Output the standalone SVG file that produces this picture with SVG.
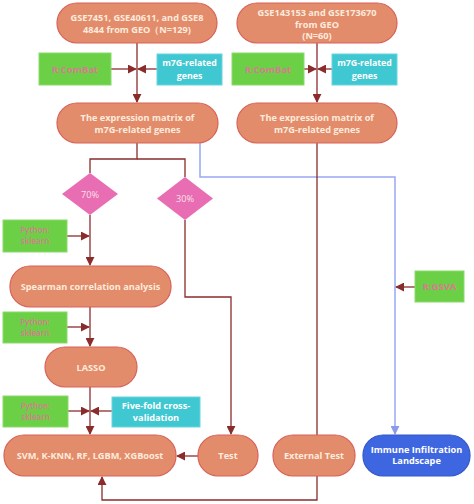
<svg xmlns="http://www.w3.org/2000/svg" width="474" height="504" viewBox="0 0 474 504">
<defs>
<marker id="ar" viewBox="0 0 10 10" refX="9" refY="5" markerWidth="9" markerHeight="9" markerUnits="userSpaceOnUse" orient="auto"><path d="M0,0 L10,5 L0,10 z" fill="#8B2C2C"/></marker>
<marker id="ab" viewBox="0 0 10 10" refX="9" refY="5" markerWidth="9" markerHeight="9" markerUnits="userSpaceOnUse" orient="auto"><path d="M0,0 L10,5 L0,10 z" fill="#8A9AEE"/></marker>
<style>
.pill{fill:#E38C6B;stroke:#D8625A;stroke-width:1.2}
.blue{fill:#3D66E0;stroke:#3558C8;stroke-width:1.2}
.grn{fill:#6CD046;stroke:#8ADA6A;stroke-width:1}
.cyn{fill:#3FC7D2;stroke:#6AD6DE;stroke-width:1}
.dia{fill:#E96DB2}
.t{font-family:"Open Sans","Liberation Sans",sans-serif;font-weight:700;font-size:9.2px;fill:#FDEBDD;text-anchor:middle}
.tw{font-family:"Open Sans","Liberation Sans",sans-serif;font-weight:700;font-size:9.2px;fill:#FFFFFF;text-anchor:middle}
.tm{font-family:"Open Sans","Liberation Sans",sans-serif;font-weight:700;font-size:8.8px;fill:#FFFFFF;text-anchor:middle}
.tg{font-family:"Open Sans","Liberation Sans",sans-serif;font-weight:600;font-size:8px;fill:#D97A92;text-anchor:middle}
.tr{font-family:"Open Sans","Liberation Sans",sans-serif;font-weight:700;font-size:9.5px;fill:#D97A92;text-anchor:middle}
.ln{fill:none;stroke:#8B2C2C;stroke-width:1.3}
.lb{fill:none;stroke:#9AA8F2;stroke-width:1.5}
</style>
</defs>
<rect width="474" height="504" fill="#FFFFFF"/>
<g id="connectors">
<path class="ln" d="M137,43 V102" marker-end="url(#ar)"/>
<path class="ln" d="M111,69 H136" marker-end="url(#ar)"/>
<path class="ln" d="M157,69 H138" marker-end="url(#ar)"/>
<path class="ln" d="M317,43 V102" marker-end="url(#ar)"/>
<path class="ln" d="M304,69 H316" marker-end="url(#ar)"/>
<path class="ln" d="M332,69 H318" marker-end="url(#ar)"/>
<path class="lb" d="M200,143 V177 H395 V434" marker-end="url(#ab)"/>
<path class="ln" d="M415,287 H396" marker-end="url(#ar)"/>
<path class="ln" d="M137,143 V159 H90 V173"/>
<path class="ln" d="M137,159 H185 V177"/>
<path class="ln" d="M90,215 V265" marker-end="url(#ar)"/>
<path class="ln" d="M67,236 H89" marker-end="url(#ar)"/>
<path class="ln" d="M90,307 V346" marker-end="url(#ar)"/>
<path class="ln" d="M67,327 H89" marker-end="url(#ar)"/>
<path class="ln" d="M90,387 V434" marker-end="url(#ar)"/>
<path class="ln" d="M68,411 H89" marker-end="url(#ar)"/>
<path class="ln" d="M112,411 H91" marker-end="url(#ar)"/>
<path class="ln" d="M185,220 V297 H231 V434" marker-end="url(#ar)"/>
<path class="ln" d="M198,456 H177" marker-end="url(#ar)"/>
<path class="ln" d="M317,143 V500 H102 V477" marker-end="url(#ar)"/>
</g>
<g id="n_gse1"><rect class="pill" x="57" y="3" width="160" height="40" rx="20"/><text class="t" x="137" y="21">GSE7451, GSE40611, and GSE8</text><text class="t" x="137" y="33">4844 from GEO（N=129)</text></g>
<g id="n_combat1"><rect class="grn" x="39" y="53" width="72" height="32"/><text class="tr" x="75" y="72.5">R:ComBat</text></g>
<g id="n_m7g1"><rect class="cyn" x="157" y="54" width="65" height="31"/><text class="tm" x="189.5" y="66">m7G-related</text><text class="tm" x="189.5" y="78.5">genes</text></g>
<g id="n_mat1"><rect class="pill" x="57" y="103" width="161" height="40" rx="20"/><text class="t" x="137.5" y="121">The expression matrix of</text><text class="t" x="137.5" y="133">m7G-related genes</text></g>
<g id="n_gse2"><rect class="pill" x="237" y="3" width="160" height="40" rx="20"/><text class="t" x="317" y="16">GSE143153 and GSE173670</text><text class="t" x="317" y="27.5">from GEO</text><text class="t" x="317" y="39">(N=60)</text></g>
<g id="n_combat2"><rect class="grn" x="232" y="53" width="72" height="32"/><text class="tr" x="268" y="72.5">R:ComBat</text></g>
<g id="n_m7g2"><rect class="cyn" x="332" y="54" width="65" height="31"/><text class="tm" x="364.5" y="66">m7G-related</text><text class="tm" x="364.5" y="78.5">genes</text></g>
<g id="n_mat2"><rect class="pill" x="237" y="103" width="160" height="40" rx="20"/><text class="t" x="317" y="121">The expression matrix of</text><text class="t" x="317" y="133">m7G-related genes</text></g>
<g id="n_70"><polygon class="dia" points="90,173 118,194 90,215 62,194"/><text class="tw" x="90" y="197.5" style="font-weight:400;fill:#F8E0EC">70%</text></g>
<g id="n_30"><polygon class="dia" points="185,177 213,198.5 185,220 157,198.5"/><text class="tw" x="185" y="202" style="font-weight:400;fill:#F8E0EC">30%</text></g>
<g id="n_py1"><rect class="grn" x="3" y="220" width="64" height="32"/><text class="tg" x="35" y="233">Python:</text><text class="tg" x="35" y="244">sklearn</text></g>
<g id="n_spear"><rect class="pill" x="10" y="266" width="161" height="41" rx="20"/><text class="t" x="90.5" y="290">Spearman correlation analysis</text></g>
<g id="n_py2"><rect class="grn" x="3" y="312" width="64" height="31"/><text class="tg" x="35" y="325">Python:</text><text class="tg" x="35" y="336">sklearn</text></g>
<g id="n_lasso"><rect class="pill" x="45" y="347" width="92" height="40" rx="20"/><text class="t" x="91" y="370.5">LASSO</text></g>
<g id="n_py3"><rect class="grn" x="3" y="396" width="65" height="31"/><text class="tg" x="35.5" y="409">Python:</text><text class="tg" x="35.5" y="420">sklearn</text></g>
<g id="n_five"><rect class="cyn" x="112" y="397" width="88" height="30"/><text class="tw" x="156" y="409">Five-fold cross-</text><text class="tw" x="156" y="420.5">validation</text></g>
<g id="n_svm"><rect class="pill" x="4" y="435" width="172" height="41" rx="20"/><text class="t" x="90" y="459">SVM, K-KNN, RF, LGBM, XGBoost</text></g>
<g id="n_test"><rect class="pill" x="198" y="435" width="60" height="41" rx="20"/><text class="t" x="228" y="459">Test</text></g>
<g id="n_ext"><rect class="pill" x="273" y="435" width="82" height="41" rx="20"/><text class="t" x="314" y="459">External Test</text></g>
<g id="n_immune"><rect class="blue" x="363" y="435" width="107" height="41" rx="20"/><text class="tw" x="416.5" y="452.5">Immune Infiltration</text><text class="tw" x="416.5" y="464">Landscape</text></g>
<g id="n_gsva"><rect class="grn" x="415" y="271" width="49" height="31"/><text class="tr" x="439.5" y="290">R:GSVA</text></g>
</svg>
